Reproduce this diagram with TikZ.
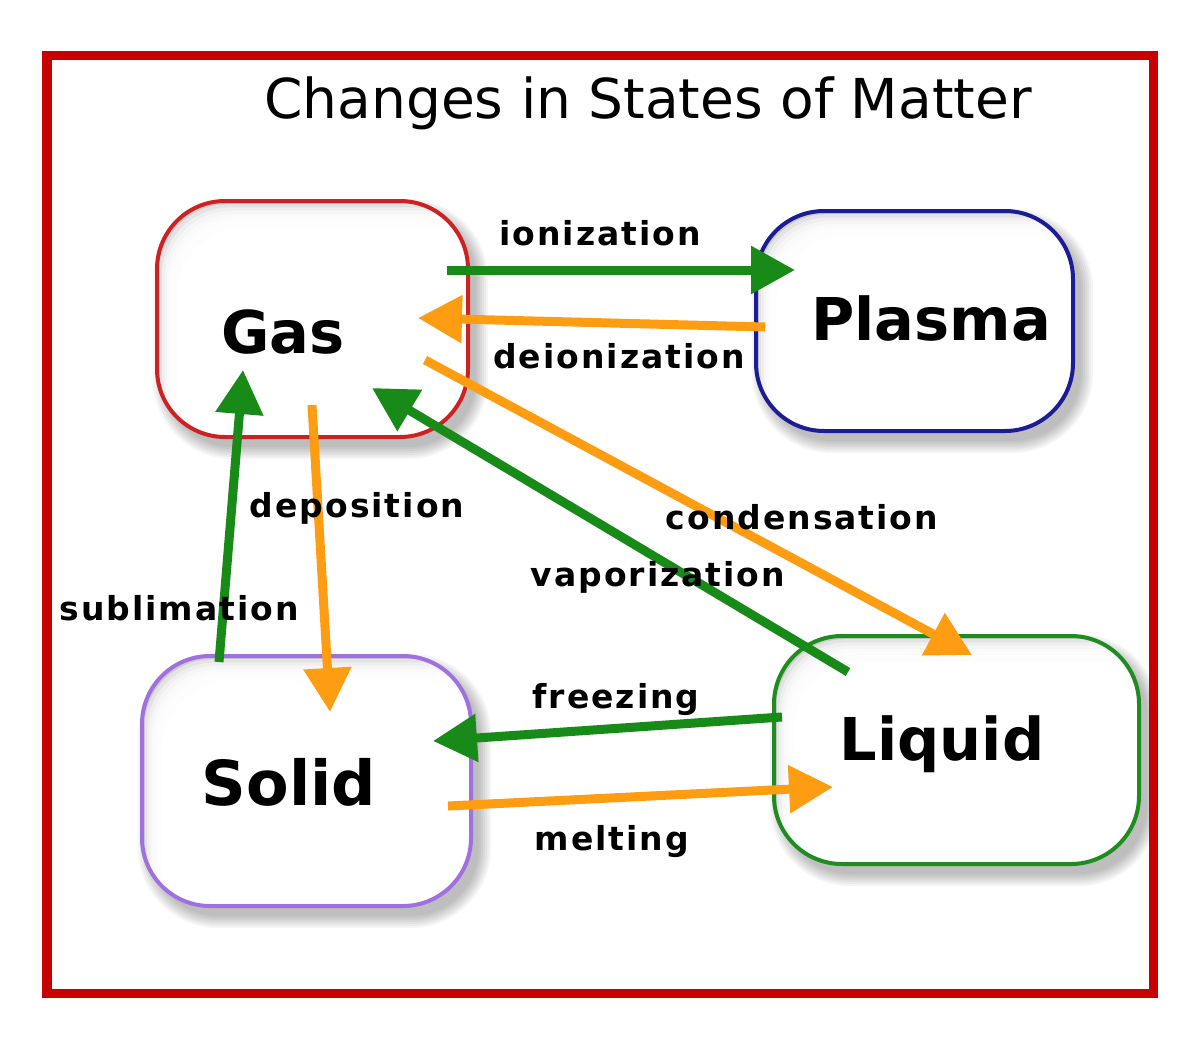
\documentclass[tikz,border=0pt]{standalone}
\usepackage{fontspec}
\setmainfont{DejaVu Sans}
\newfontfamily\lblfont[LetterSpace=6]{DejaVu Sans}
\usetikzlibrary{arrows.meta}
\definecolor{framered}{HTML}{C80000}
\definecolor{gasred}{HTML}{CC2222}
\definecolor{plasmablue}{HTML}{1C1C96}
\definecolor{solidpurple}{HTML}{A070E0}
\definecolor{liquidgreen}{HTML}{1E8C1E}
\definecolor{arrgreen}{HTML}{178A17}
\definecolor{arrorange}{HTML}{FF9D12}
\tikzset{
  garrow/.style={draw=arrgreen, line width=9pt, -{Triangle[length=44pt,width=46pt]}},
  oarrow/.style={draw=arrorange, line width=9pt, -{Triangle[length=44pt,width=46pt]}},
  lbl/.style={anchor=base, inner sep=0pt, font=\lblfont\bfseries\fontsize{33}{40}\selectfont},
  statelbl/.style={anchor=base, inner sep=0pt, font=\bfseries\fontsize{59}{70}\selectfont},
  titlelbl/.style={anchor=base, inner sep=0pt, font=\fontsize{55}{66}\selectfont},
  stateframe/.style={line width=4pt, rounded corners=68pt, inner sep=0pt}
}
\newcommand\statebox[6]{%
  \foreach \k in {0,...,6}{
    \fill[black,opacity=0.04,rounded corners={68+2*\k}] ({#2+8-2*\k},{#3+10-2*\k}) rectangle ({#4+8+2*\k},{#5+10+2*\k});
  }
  \begin{scope}
    \clip[rounded corners=68pt] (#2,#3) rectangle (#4,#5);
    \fill[gray!40] (#2,#3) rectangle (#4,#5);
    \foreach \k in {1,...,7}{
      \fill[white,opacity=0.45,rounded corners=68pt] ({#2+2.5*\k},{#3+3.2*\k}) rectangle ({#4+40},{#5+40});
    }
    \fill[white,rounded corners=68pt] ({#2+20},{#3+25.6}) rectangle ({#4+40},{#5+40});
  \end{scope}
  \node[stateframe, draw=#6, minimum width={#4-#2}, minimum height={#5-#3}] (#1) at ({(#2+#4)/2},{(#3+#5)/2}) {};
}
\begin{document}
\begin{tikzpicture}[x=1pt,y=-1pt]
\useasboundingbox (0,0) rectangle (1200,1060);
\fill[white] (0,0) rectangle (1200,1060);

\node[titlelbl] (title) at (648,118) {Changes in States of Matter};

\statebox{gas}{157}{201}{468}{437}{gasred}
\statebox{plasma}{756}{211}{1073}{431}{plasmablue}
\statebox{solid}{142}{656}{471}{906}{solidpurple}
\statebox{liquid}{774}{636}{1139}{864}{liquidgreen}

\draw[framered, line width=9.5pt] (47,55.5) rectangle (1153.5,993.5);

% connector end points
\coordinate (gas-ion) at (447,270);
\coordinate (plasma-ion) at (795,270);
\coordinate (plasma-deion) at (765,327);
\coordinate (gas-deion) at (418,318);
\coordinate (solid-subl) at (219,662);
\coordinate (gas-subl) at (243,370);
\coordinate (gas-depo) at (312,405);
\coordinate (solid-depo) at (330,712);
\coordinate (gas-cond) at (425,360);
\coordinate (liquid-cond) at (972,655);
\coordinate (liquid-vap) at (848,672);
\coordinate (gas-vap) at (372,388);
\coordinate (liquid-freeze) at (782,717);
\coordinate (solid-freeze) at (433,741);
\coordinate (solid-melt) at (448,806);
\coordinate (liquid-melt) at (833,787);

\draw[garrow] (gas-ion) -- (plasma-ion);
\draw[oarrow] (plasma-deion) -- (gas-deion);
\draw[garrow] (solid-subl) -- (gas-subl);
\draw[oarrow] (gas-depo) -- (solid-depo);
\draw[oarrow] (gas-cond) -- (liquid-cond);
\draw[garrow] (liquid-vap) -- (gas-vap);
\draw[garrow] (liquid-freeze) -- (solid-freeze);
\draw[oarrow] (solid-melt) -- (liquid-melt);

\node[statelbl] (gasT) at (283,353) {Gas};
\node[statelbl] (plasmaT) at (931,340) {Plasma};
\node[statelbl, font=\bfseries\fontsize{62}{72}\selectfont] (solidT) at (289,805) {Solid};
\node[statelbl] (liquidT) at (942,760) {Liquid};

\node[lbl] (ionL) at (600,245) {ionization};
\node[lbl] (deionL) at (619,368) {deionization};
\node[lbl] (depoL) at (357,517) {deposition};
\node[lbl] (sublL) at (179,620) {sublimation};
\node[lbl] (condL) at (802,529) {condensation};
\node[lbl] (vapL) at (658,586) {vaporization};
\node[lbl] (freezeL) at (616,708) {freezing};
\node[lbl] (meltL) at (612,850) {melting};
\end{tikzpicture}
\end{document}
